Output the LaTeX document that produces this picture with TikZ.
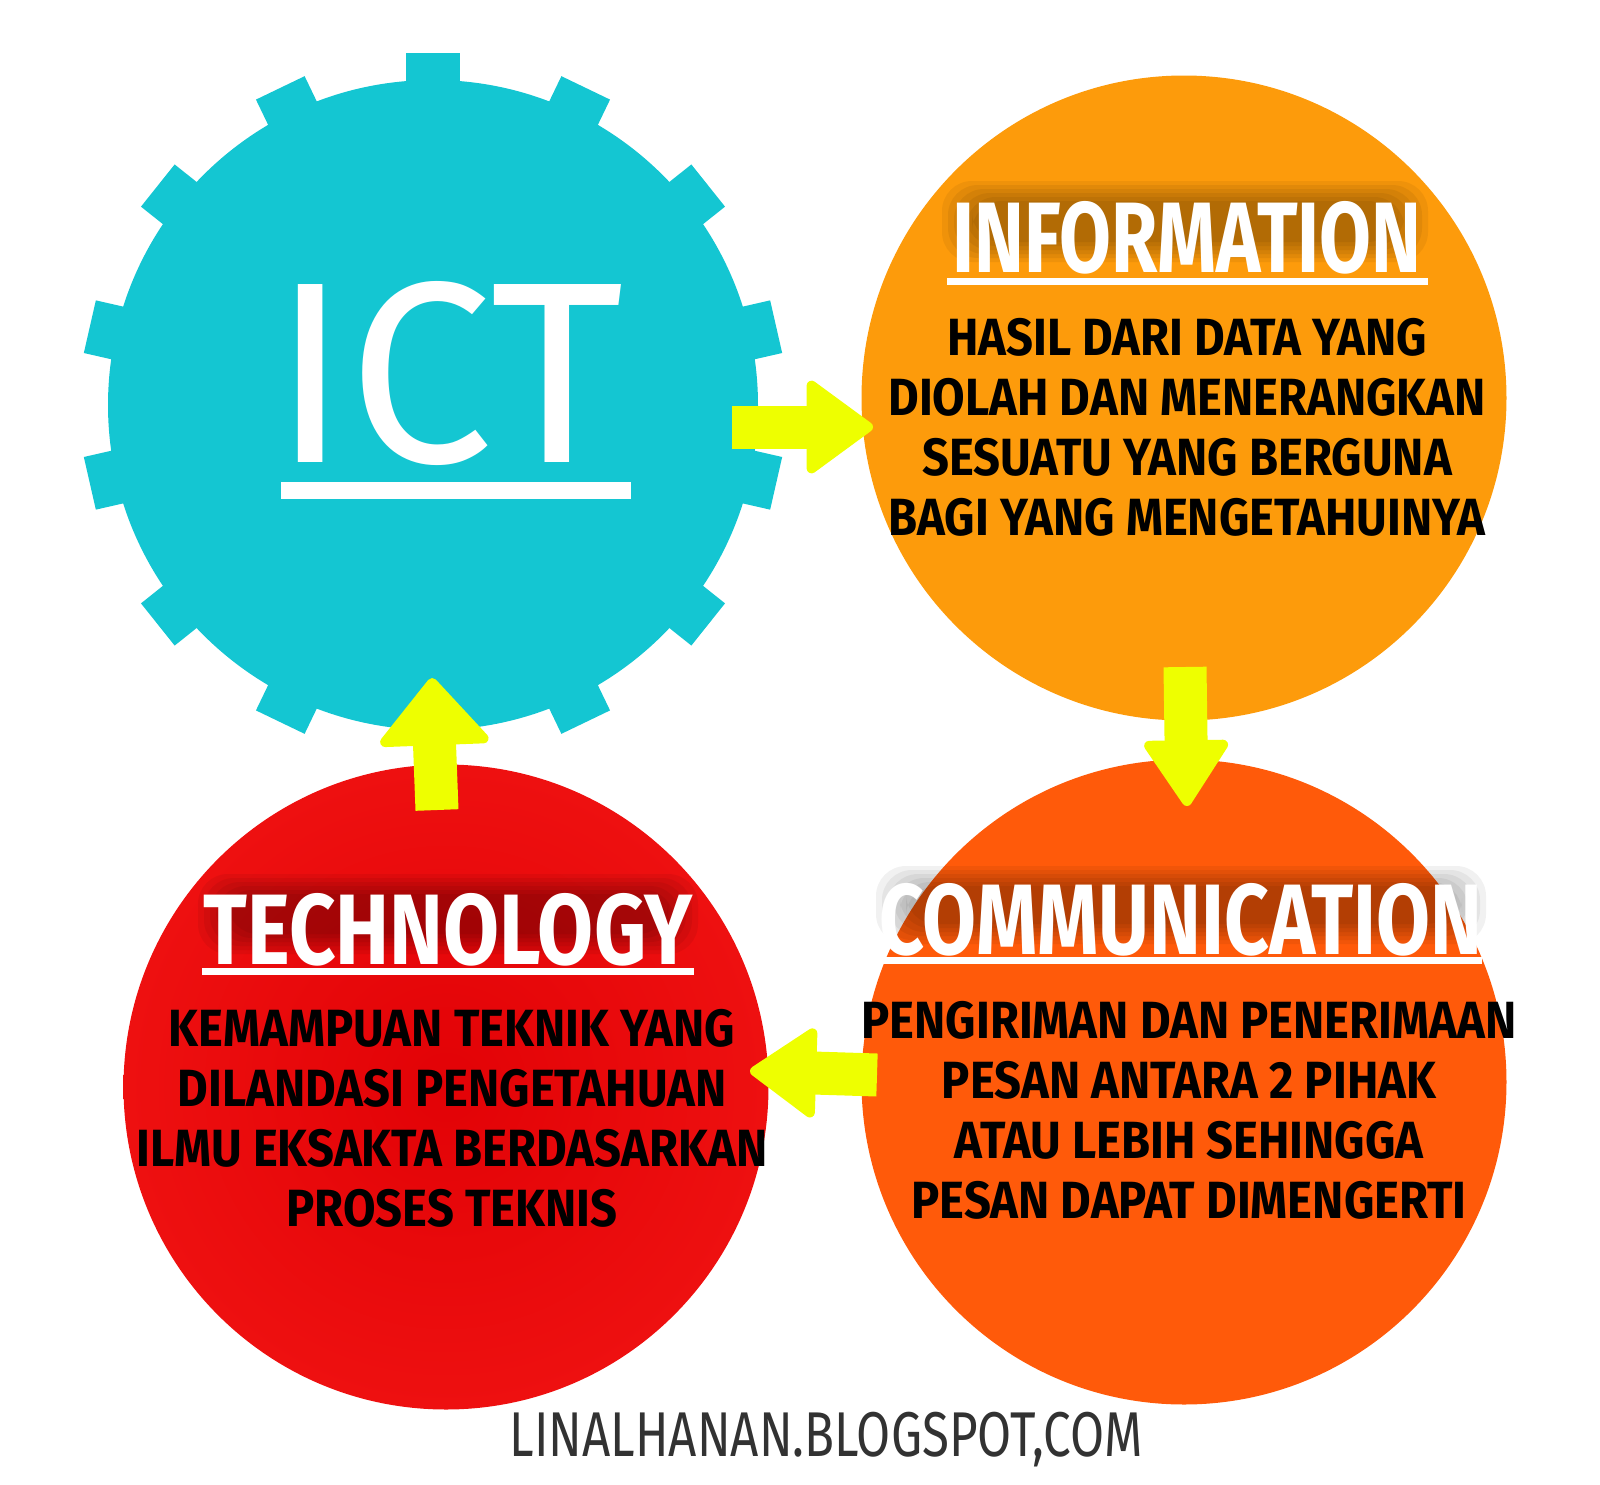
\documentclass[tikz,border=0pt]{standalone}
\usepackage{fontspec}
\setmainfont{Fira Sans}
\newfontfamily\bodyfont{Fira Sans}[FakeStretch=0.9]
\newfontfamily\headfont{Fira Sans}
\newfontfamily\ictfont{Fira Sans}[FakeStretch=1.0]
\newfontfamily\footfont{Fira Sans}[FakeStretch=0.78]
\usetikzlibrary{arrows.meta}

\definecolor{ictcyan}{RGB}{20,198,210}
\definecolor{infoorange}{RGB}{253,155,11}
\definecolor{commorange}{RGB}{255,90,10}
\definecolor{techred}{RGB}{226,2,6}
\definecolor{techredlight}{RGB}{238,16,16}
\definecolor{arrowyellow}{RGB}{238,255,0}
\definecolor{footgray}{RGB}{50,50,50}

\tikzset{
  disc/.style={circle, inner sep=0pt, minimum size=#1},
  bodyline/.style={font=\bodyfont\bfseries\fontsize{14.9}{17}\selectfont, text=black, inner sep=0pt, anchor=base},
  headline/.style={font=\headfont\bfseries\fontsize{28.5}{32}\selectfont, text=white, inner sep=0pt, anchor=base},
  hrule/.style={draw=white, line width=#1},
  hrule/.default=0.7mm,
  flow/.style={draw=arrowyellow, line width=4.3mm,
    -{Triangle[length=7mm 0, width=#1 0, line width=1mm 0, round]}},
  flow/.default=10mm
}

% soft dark smudge behind a title
\newcommand{\softshade}[4]{%
  \foreach \s in {0,...,5}
    \fill[black, opacity=0.055, rounded corners=3mm]
      (#1+\s*6,#2+\s*4) rectangle (#3-\s*6,#4-\s*4);
}

\begin{document}
\begin{tikzpicture}[x=0.1mm, y=-0.1mm]
  \useasboundingbox (0,0) rectangle (1600,1485);

  % ICT gear
  \node[disc=65mm, fill=ictcyan] (ict) at (433,405) {};
  \foreach \k in {0,...,6,8,9,...,13}
    \fill[ictcyan, shift={(ict.center)}, rotate=90+\k*360/14]
      (29mm,-2.7mm) rectangle (35.2mm,2.7mm);
  \node[font=\ictfont\fontsize{73.5}{80}\selectfont, text=white, inner sep=0pt, anchor=base] (icttitle) at (448,462) {ICT};
  \draw[hrule=1.7mm] (281,490) -- (631,490);

  % the three circles
  \node[disc=64.5mm, fill=infoorange] (info) at (1184,398) {};
  \node[disc=64.5mm, fill=commorange] (comm) at (1184,1082) {};
  \node[disc=64.5mm, inner color=techred, outer color=techredlight] (tech) at (446,1087) {};

  % Information
  \softshade{942}{181}{1428}{262}
  \node[headline] (infohead) at (1187,272) {\scalebox{0.75}[1]{INFORMATION}};
  \draw[hrule] (947,281) -- (1428,281);
  \foreach \txt [count=\i] in {HASIL DARI DATA YANG, DIOLAH DAN MENERANGKAN, SESUATU YANG BERGUNA, BAGI YANG MENGETAHUINYA}
    \node[bodyline] (infotext\i) at (1187,295+60*\i) {\txt};

  % Communication
  \softshade{876}{866}{1486}{944}
  \node[headline] (commhead) at (1181,954) {\scalebox{0.78}[1]{COMMUNICATION}};
  \draw[hrule] (883,960) -- (1482,960);
  \foreach \txt [count=\i] in {PENGIRIMAN DAN PENERIMAAN, PESAN ANTARA 2 PIHAK, ATAU LEBIH SEHINGGA, PESAN DAPAT DIMENGERTI}
    \node[bodyline] (commtext\i) at (1189,978+60*\i) {\txt};

  % Technology
  \softshade{198}{874}{698}{954}
  \node[headline] (techhead) at (448,964) {\scalebox{0.81}[1]{TECHNOLOGY}};
  \draw[hrule] (202,971) -- (694,971);
  \foreach \txt [count=\i] in {KEMAMPUAN TEKNIK YANG, DILANDASI PENGETAHUAN, ILMU EKSAKTA BERDASARKAN, PROSES TEKNIS}
    \node[bodyline] (techtext\i) at (452,986+60*\i) {\txt};

  % yellow arrows
  \coordinate (flow1s) at (732,427);
  \coordinate (flow1e) at (873,427);
  \coordinate (flow2s) at (1185,667);
  \coordinate (flow2e) at (1187,806);
  \coordinate (flow3s) at (877,1075);
  \coordinate (flow3e) at (750,1071);
  \coordinate (flow4s) at (437,810);
  \coordinate (flow4e) at (432,678);
  \draw[flow] (flow1s) -- (flow1e);
  \draw[flow=9mm] (flow2s) -- (flow2e);
  \draw[flow=9.6mm] (flow3s) -- (flow3e);
  \draw[flow=11.8mm] (flow4s) -- (flow4e);

  % footer
  \node[font=\footfont\fontsize{18}{20}\selectfont, text=footgray, inner sep=0pt, anchor=base] (blog) at (826,1456) {LINALHANAN.BLOGSPOT,COM};
\end{tikzpicture}
\end{document}
